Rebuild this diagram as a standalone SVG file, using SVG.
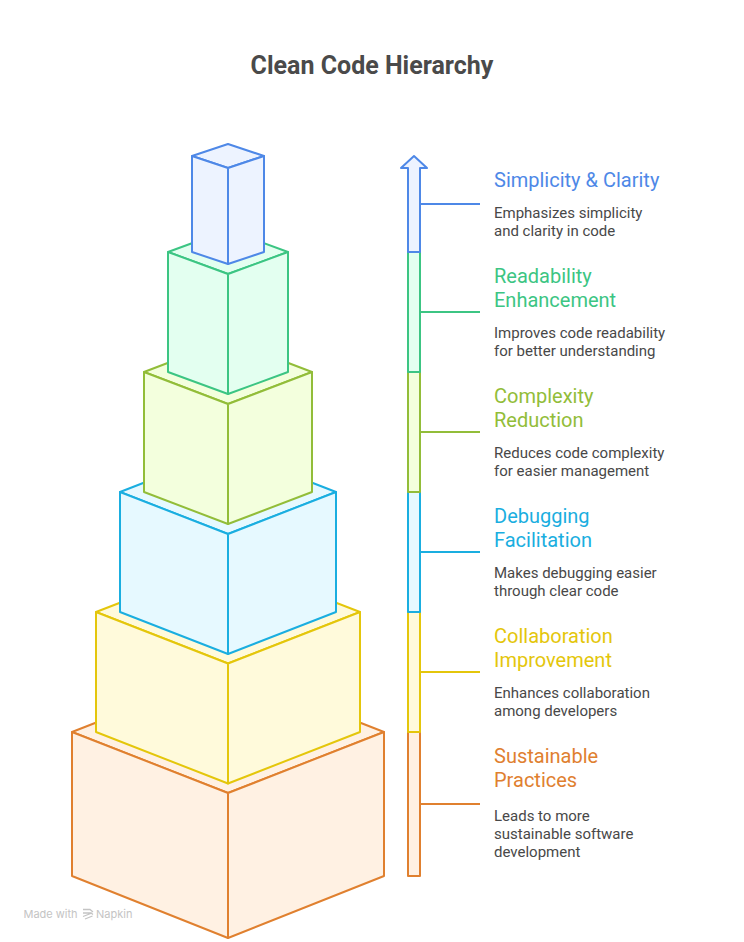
<svg xmlns="http://www.w3.org/2000/svg" width="744" height="942" viewBox="0 0 744 942">
<style>
text{font-family:Roboto,"Liberation Sans",sans-serif}
.s{stroke-width:2;stroke-linejoin:round;stroke-linecap:round}
.title{font-size:25px;font-weight:700;fill:#4a4a4a;text-anchor:middle}
.h{font-size:20px;font-weight:400}
.d{font-size:15px;fill:#484848}
.blue{stroke:#4e88e7;fill:#edf3ff}.green{stroke:#3cc583;fill:#e3fff0}.lime{stroke:#92bd39;fill:#f3ffdd}.cyan{stroke:#1aaee0;fill:#e6f9ff}.yellow{stroke:#e4c60b;fill:#fffadb}.orange{stroke:#e0802f;fill:#fff1e3}
.tblue{fill:#4e88e7}.tgreen{fill:#3cc583}.tlime{fill:#92bd39}.tcyan{fill:#1aaee0}.tyellow{fill:#e4c60b}.torange{fill:#e0802f}
.c{fill:none;stroke-width:2}
</style>
<text class="title" x="372" y="74">Clean Code Hierarchy</text>
<g id="block-sustainable" class="s orange">
<path d="M72 732L228 671L384 732L228 793Z"/><path d="M72 732L228 793V938L72 876Z"/><path d="M384 732L228 793V938L384 876Z"/>
</g>
<g id="block-collaboration" class="s yellow">
<path d="M96 612L228 561L360 612L228 663.5Z"/><path d="M96 612L228 663.5V783.5L96 732Z"/><path d="M360 612L228 663.5V783.5L360 732Z"/>
</g>
<g id="block-debugging" class="s cyan">
<path d="M120 492L228 450L336 492L228 534Z"/><path d="M120 492L228 534V654L120 612Z"/><path d="M336 492L228 534V654L336 612Z"/>
</g>
<g id="block-complexity" class="s lime">
<path d="M144 372L228 340L312 372L228 404Z"/><path d="M144 372L228 404V524L144 492Z"/><path d="M312 372L228 404V524L312 492Z"/>
</g>
<g id="block-readability" class="s green">
<path d="M168 252L228 230L288 252L228 274Z"/><path d="M168 252L228 274V394L168 372Z"/><path d="M288 252L228 274V394L288 372Z"/>
</g>
<g id="block-simplicity" class="s blue">
<path d="M192 156L228 144L264 156L228 168Z"/><path d="M192 156L228 168V264L192 252Z"/><path d="M264 156L228 168V264L264 252Z"/>
</g>
<g id="arrow">
<rect class="s orange" x="408" y="732" width="12" height="144"/>
<rect class="s yellow" x="408" y="612" width="12" height="120"/>
<rect class="s cyan" x="408" y="492" width="12" height="120"/>
<rect class="s lime" x="408" y="372" width="12" height="120"/>
<rect class="s green" x="408" y="252" width="12" height="120"/>
<path class="s blue" d="M408 252V168H401L414 156L427 168H420V252Z"/>
</g>
<g id="connectors">
<path class="c blue" d="M420 204H480"/>
<path class="c green" d="M420 312H480"/>
<path class="c lime" d="M420 432H480"/>
<path class="c cyan" d="M420 552H480"/>
<path class="c yellow" d="M420 672H480"/>
<path class="c orange" d="M420 804H480"/>
</g>
<g id="label-simplicity"><text class="h tblue" x="494" y="187">Simplicity &amp; Clarity</text><text class="d" x="494" y="218">Emphasizes simplicity</text><text class="d" x="494" y="236">and clarity in code</text></g>
<g id="label-readability"><text class="h tgreen" x="494" y="283">Readability</text><text class="h tgreen" x="494" y="307">Enhancement</text><text class="d" x="494" y="338">Improves code readability</text><text class="d" x="494" y="356">for better understanding</text></g>
<g id="label-complexity"><text class="h tlime" x="494" y="403">Complexity</text><text class="h tlime" x="494" y="427">Reduction</text><text class="d" x="494" y="458">Reduces code complexity</text><text class="d" x="494" y="476">for easier management</text></g>
<g id="label-debugging"><text class="h tcyan" x="494" y="523">Debugging</text><text class="h tcyan" x="494" y="547">Facilitation</text><text class="d" x="494" y="578">Makes debugging easier</text><text class="d" x="494" y="596">through clear code</text></g>
<g id="label-collaboration"><text class="h tyellow" x="494" y="643">Collaboration</text><text class="h tyellow" x="494" y="667">Improvement</text><text class="d" x="494" y="698">Enhances collaboration</text><text class="d" x="494" y="716">among developers</text></g>
<g id="label-sustainable"><text class="h torange" x="494" y="763">Sustainable</text><text class="h torange" x="494" y="787">Practices</text><text class="d" x="494" y="821">Leads to more</text><text class="d" x="494" y="839">sustainable software</text><text class="d" x="494" y="857">development</text></g>
<g id="watermark">
<text x="23.500" y="918" font-size="11" fill="#c4c4c4" style="font-family:Inter,Roboto,sans-serif">Made with</text>
<path d="M83 909.500H90L93 912M83 913H91L93 914.500M83 916.500L92 913M85 919L92.500 916" fill="none" stroke="#c4c4c4" stroke-width="1.300"/>
<text x="96" y="918" font-size="11" fill="#c4c4c4" style="font-family:Inter,Roboto,sans-serif">Napkin</text>
</g>
</svg>
